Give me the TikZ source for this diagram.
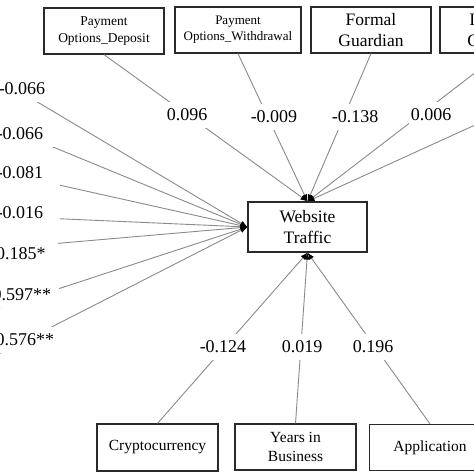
\documentclass[tikz,border=0pt]{standalone}
\usepackage{fontspec}
\setmainfont{Liberation Serif}
\usepackage{tikz}
\usetikzlibrary{arrows.meta}
\definecolor{pathGray}{HTML}{8A8A8A}
\definecolor{boxLine}{HTML}{2A2A2A}
\tikzset{
  varbox/.style={draw=boxLine, line width=1.2pt, align=center, inner sep=2pt, minimum width=120pt, minimum height=46pt},
  smallvar/.style={varbox, font=\fontsize{13.5}{16.5}\selectfont},
  bigvar/.style={varbox, font=\fontsize{17.5}{21}\selectfont},
  lowvar/.style={varbox, font=\fontsize{15.5}{19}\selectfont},
  pathline/.style={-{Latex[length=7pt,width=5.5pt,color=black]}, draw=pathGray, line width=0.9pt},
  coef/.style={fill=white, inner xsep=2pt, inner ysep=7pt, font=\fontsize{18}{20}\selectfont},
  leftcoef/.style={coef, minimum width=80pt}
}

\begin{document}
\begin{tikzpicture}[x=1pt, y=-1pt]
  \useasboundingbox (0,0) rectangle (474,474);
  \clip (0,0) rectangle (474,474);

  % outcome
  \node[bigvar, minimum width=119pt, minimum height=50pt] (traffic) at (307.5,227) {Website\\Traffic};

  % top row
  \node[smallvar, font=\fontsize{13.5}{16.5}\selectfont] (deposit) at (104,31) {Payment\\Options\_Deposit};
  \node[smallvar, font=\fontsize{13}{16}\selectfont, minimum width=126pt] (withdraw) at (238,30) {Payment\\Options\_Withdrawal};
  \node[bigvar] (formal) at (371,30) {Formal\\Guardian};
  \node[bigvar] (informal) at (500,30) {Informal\\Guardian};
  \coordinate (offright) at (633,53);

  % bottom row
  \node[lowvar, minimum width=121pt, minimum height=47pt] (crypto) at (157.5,447.5) {Cryptocurrency};
  \node[lowvar, minimum width=121pt] (years) at (295.5,447) {Years in\\Business};
  \node[lowvar, minimum width=121pt] (app) at (430,447.5) {Application};

  % left predictors (outside the frame)
  \coordinate (left1) at (-60,44);
  \coordinate (left2) at (-60,100.5);
  \coordinate (left3) at (-60,158.5);
  \coordinate (left4) at (-60,213.5);
  \coordinate (left5) at (-60,253.5);
  \coordinate (left6) at (-60,327.5);
  \coordinate (left7) at (-60,384);

  % paths
  \foreach \src in {deposit, withdraw, formal, informal}
    \draw[pathline] (\src.south) -- (traffic.north);
  \draw[pathline] (offright) -- (traffic.north);
  \foreach \i in {1,...,7}
    \draw[pathline] (left\i) -- (traffic.west);
  \foreach \src in {crypto, years, app}
    \draw[pathline] (\src.north) -- (traffic.south);

  % coefficients
  \node[coef] (cDeposit) at (187,115) {0.096};
  \node[coef] (cWithdraw) at (274,117) {-0.009};
  \node[coef] (cFormal) at (355,117) {-0.138};
  \node[coef] (cInformal) at (431,115) {0.006};

  \node[leftcoef] (cLeft1) at (22,89) {-0.066};
  \node[leftcoef] (cLeft2) at (20,134) {-0.066};
  \node[leftcoef] (cLeft3) at (20,173) {-0.081};
  \node[leftcoef] (cLeft4) at (20,213) {-0.016};
  \node[leftcoef] (cLeft5) at (18,254) {-0.185*};
  \node[leftcoef] (cLeft6) at (19,295) {-0.597**};
  \node[leftcoef] (cLeft7) at (22,340) {-0.576**};

  \node[coef] (cCrypto) at (223,347) {-0.124};
  \node[coef] (cYears) at (302,347) {0.019};
  \node[coef] (cApp) at (373,347) {0.196};
\end{tikzpicture}
\end{document}
